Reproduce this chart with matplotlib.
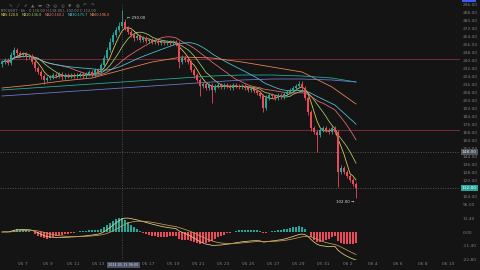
import matplotlib
matplotlib.use('Agg')
import matplotlib.pyplot as plt
import numpy as np
import pandas as pd
from matplotlib.ticker import MultipleLocator, FuncFormatter
from matplotlib.transforms import blended_transform_factory

plt.rcParams['font.family'] = ['DejaVu Sans']

# ---------------- data ----------------
closes = [238,240,237,245,250,247,245,246,243,244,
          238,232,228,224,220,222,223,225,224,226,
          223,225,224,225,224,225,226,224,226,228,
          225,230,228,235,242,250,258,265,270,274,
          278,272,268,265,262,264,260,262,259,260,
          258,259,257,258,257,258,257,258,256,238,
          242,240,238,230,225,220,214,216,212,215,
          210,214,215,213,215,214,212,215,214,213,
          214,212,210,211,209,207,204,192,202,205,
          204,202,205,203,206,208,210,212,214,216,
          212,202,188,172,168,165,170,172,170,168,
          172,168,128,132,128,124,120,116,112]
first_open = 236
upper_wick = [2,2,2,3,3,2,2,2,2,2,
              2,2,2,2,2,2,2,2,2,2,
              2,2,2,2,2,2,2,2,2,2,
              2,2,2,2,3,3,4,3,3,4,
              12,3,2,2,2,2,2,2,2,2,
              2,2,2,2,2,2,2,2,2,3,
              3,2,2,2,2,2,2,2,2,2,
              2,2,2,2,2,2,2,2,2,2,
              2,2,2,2,2,2,2,2,3,2,
              2,2,2,2,2,2,2,2,2,3,
              3,2,2,2,2,2,3,2,2,2,
              3,2,2,3,2,2,2,2,2]
lower_wick = [3,2,2,2,2,2,2,2,3,2,
              2,3,2,3,4,2,2,2,2,2,
              3,2,2,2,2,2,2,2,2,2,
              2,2,2,2,2,2,2,2,2,2,
              2,2,2,2,3,2,2,2,2,2,
              2,2,2,2,2,2,2,2,2,6,
              2,2,2,2,3,2,10,2,2,2,
              13,2,2,2,2,2,2,2,2,2,
              2,2,2,2,2,2,2,4,2,2,
              2,2,2,2,2,2,2,2,2,2,
              2,2,3,3,2,17,2,2,2,2,
              2,2,15,2,2,2,2,2,10]

ma_windows = [5, 10, 20, 30]
ma_names = ['MA5', 'MA10', 'MA20', 'MA30']
ma_colors = ['#e9d25a', '#a5d06a', '#e86f7a', '#4fc8dc']

long_ma_idx = [0, 10, 20, 30, 40, 50, 60, 70, 80, 90, 100, 110, 118]
ma60 = [212, 215, 219, 222, 230, 238, 243, 242, 238, 233, 228, 213, 196]
ma120 = [210, 212, 214, 216, 218, 220, 222, 224, 225, 225, 224, 222, 218]
ma200 = [204, 206, 208, 210, 212, 214, 216, 218, 220, 221, 221, 220, 218]

levels = [241, 170]
crosshair_idx = 40
crosshair_price = 148
x_labels = ['05 7', '05 9', '05 11', '05 13', '05 15', '05 17', '05 19', '05 21',
            '05 23', '05 25', '05 27', '05 29', '05 31', '06 2', '06 4', '06 6',
            '06 8', '06 10']
crosshair_label = '2024-05-15 06:00'
title_text = 'BTCUSDT · 6h · O 116.00 H 118.00 L 102.00 C 112.00'

# ---------------- derived ----------------
n = len(closes)
idx = np.arange(n)
opens = [first_open] + closes[:-1]
highs = [max(o, c) + u for o, c, u in zip(opens, closes, upper_wick)]
lows = [min(o, c) - l for o, c, l in zip(opens, closes, lower_wick)]
s = pd.Series(closes, dtype=float)
ema12 = s.ewm(span=12, adjust=False).mean()
ema26 = s.ewm(span=26, adjust=False).mean()
dif = ema12 - ema26
dea = dif.ewm(span=9, adjust=False).mean()
hist = (dif - dea) * 2

BG = '#141414'
UP = '#26a69a'
DN = '#ea4a5a'
TXT = '#7d7d7d'

fig = plt.figure(figsize=(4.8, 2.7), dpi=100, facecolor=BG)
ax = fig.add_axes([0, 65/270, 460/480, 202/270])
ax2 = fig.add_axes([0, 10/270, 460/480, 55/270])

for a in (ax, ax2):
    a.set_facecolor(BG)
    for sp in a.spines.values():
        sp.set_visible(False)
    a.yaxis.tick_right()
    a.tick_params(axis='both', length=0, labelsize=3.2, colors=TXT, pad=2)
    a.set_xlim(-2/3, 458/3)

# candles
col = [UP if c >= o else DN for o, c in zip(opens, closes)]
ax.vlines(idx, lows, highs, colors=col, lw=0.6, zorder=3)
bottoms = [min(o, c) for o, c in zip(opens, closes)]
heights = [max(abs(c - o), 0.7) for o, c in zip(opens, closes)]
ax.bar(idx, heights, bottom=bottoms, width=0.62, color=col, zorder=4, linewidth=0)

# moving averages
for w, c in zip(ma_windows, ma_colors):
    ax.plot(idx, s.rolling(w, min_periods=1).mean(), color=c, lw=0.55, zorder=2)
ax.plot(long_ma_idx, ma60, color='#f08a5d', lw=0.55, zorder=2)
ax.plot(long_ma_idx, ma120, color='#2bb3a0', lw=0.55, zorder=2)
ax.plot(long_ma_idx, ma200, color='#6f7fd8', lw=0.55, zorder=2)

for lv in levels:
    ax.axhline(lv, color='#8a2e3c', lw=0.6, zorder=1)
ax.axhline(closes[-1], color='#6a6a6a', lw=0.5, ls=(0, (1.5, 2)), zorder=1)
ax.axhline(crosshair_price, color='#6a6a6a', lw=0.5, ls=(0, (1.5, 2)), zorder=1)
ax.axvline(crosshair_idx, color='#5a5a5a', lw=0.5, ls=(0, (1.5, 2)), zorder=1)
ax2.axvline(crosshair_idx, color='#5a5a5a', lw=0.5, ls=(0, (1.5, 2)), zorder=1)

ax.set_ylim(95, 297)
ax.yaxis.set_major_locator(MultipleLocator(8))
ax.yaxis.set_major_formatter(FuncFormatter(lambda v, p: f'{v:.2f}'))
ax.set_xticks([])

yt = ax.get_yaxis_transform()
ax.text(1.004, closes[-1], f'{closes[-1]:.2f}', transform=yt, fontsize=3.2, color='white',
        va='center', ha='left', bbox=dict(boxstyle='square,pad=0.25', fc=UP, ec='none'), zorder=6)
ax.text(1.004, crosshair_price, f'{crosshair_price:.2f}', transform=yt, fontsize=3.2,
        color='#e0e0e0', va='center', ha='left',
        bbox=dict(boxstyle='square,pad=0.25', fc='#50545e', ec='none'), zorder=6)

hi_i = int(np.argmax(highs))
lo_i = int(np.argmin(lows))
ax.text(hi_i + 1.5, highs[hi_i] - 8, f'← {highs[hi_i]:.2f}', fontsize=2.8, color='#dddddd', va='center')
ax.text(lo_i - 0.5, lows[lo_i] - 4, f'{lows[lo_i]:.2f} →', fontsize=2.8, color='#dddddd',
        va='center', ha='right')

# MACD
hcol = [UP if h >= 0 else DN for h in hist]
ax2.bar(idx, hist, width=0.6, color=hcol, linewidth=0, zorder=3)
ax2.plot(idx, dif, color='#e6cf86', lw=0.55, zorder=4)
ax2.plot(idx, dea, color='#c99a55', lw=0.55, zorder=4)
M = max(abs(dif.min()), abs(dif.max())) * 1.0
ax2.set_ylim(-M, M * 27 / 28)
ax2.yaxis.set_major_locator(MultipleLocator(max(round(M / 2, 1), 0.5)))
ax2.yaxis.set_major_formatter(FuncFormatter(lambda v, p: f'{v:.2f}'))

ticks = [(23 + 25 * k - 2) / 3 for k in range(len(x_labels))]
ax2.set_xticks(ticks)
shown = [('' if abs(t - crosshair_idx) < 2 else l) for t, l in zip(ticks, x_labels)]
ax2.set_xticklabels(shown)
ax2.tick_params(axis='x', pad=1.5)
xt = blended_transform_factory(ax2.transData, ax2.transAxes)
ax2.text(crosshair_idx + 0.5, -0.06, crosshair_label, transform=xt, fontsize=2.4, color='#dcdcdc',
         ha='center', va='top', bbox=dict(boxstyle='square,pad=0.3', fc='#4a5266', ec='none'))

# top legend / toolbar
icons = ['✎', '╱', '✐', '▲', '▬', '◔', '☺', '◎', '▼', '◍', '↶', '↷']
for k, ic in enumerate(icons):
    fig.text((10 + 7.5 * k) / 480, 1 - 6 / 270, ic, fontsize=3.2, color='#707070', ha='center', va='center')
fig.text(1 / 480, 1 - 11 / 270, title_text, fontsize=2.5, color='#8c8c8c', va='center')

ma_vals = [s.rolling(w, min_periods=1).mean().iloc[-1] for w in ma_windows] + [ma60[-1]]
leg_names = ma_names + ['MA60']
leg_cols = ma_colors + ['#f08a5d']
renderer = fig.canvas.get_renderer()
xcur = 1.0
for nm, v, c in zip(leg_names, ma_vals, leg_cols):
    t = fig.text(xcur / 480, 1 - 15.5 / 270, f'{nm}:{v:.1f}', fontsize=2.4, color=c, va='center')
    bb = t.get_window_extent(renderer)
    xcur += bb.width + 2.5
fig.patches.append(plt.Rectangle((462 / 480, 1 - 2 / 270), 14 / 480, 2 / 270,
                                 transform=fig.transFigure, fc='#3d5afe', ec='none'))

fig.savefig('out.png', dpi=100, facecolor=BG)
